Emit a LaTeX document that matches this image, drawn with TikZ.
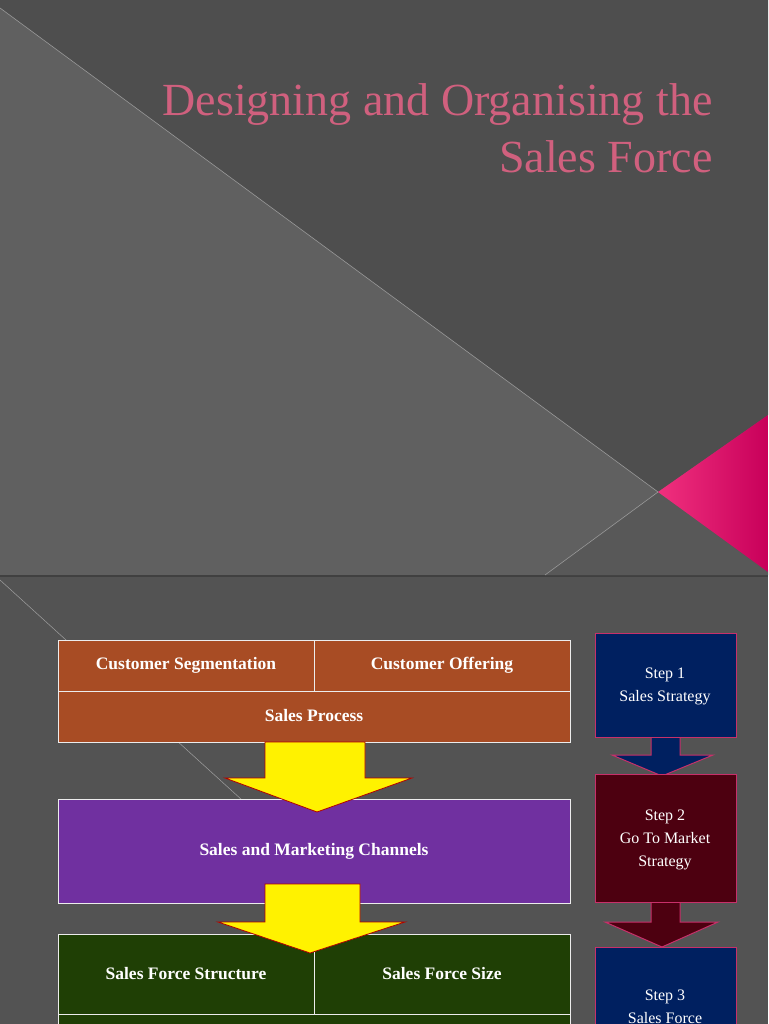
\documentclass[tikz,border=0pt]{standalone}
\usepackage{fontspec}
\setmainfont{Liberation Serif}
\begin{document}
\begin{tikzpicture}[x=1pt,y=-1pt,
  box/.style={draw=white!85!gray,line width=0.8pt},
  lbl/.style={text=white,font=\bfseries\fontsize{17.5}{20}\selectfont},
  slbl/.style={text=white,align=center,font=\fontsize{16}{23}\selectfont},
  yarr/.style={fill=yellow,draw=red!70!black,line width=0.8pt,line join=miter},
  sarr/.style={draw=pinkb,line width=1pt}]
\definecolor{bgA}{HTML}{4E4E4E}\definecolor{bgB}{HTML}{606060}
\definecolor{bgC}{HTML}{535353}
\definecolor{orng}{HTML}{A84C24}\definecolor{purp}{HTML}{7030A0}
\definecolor{grn}{HTML}{1F3F05}\definecolor{navy}{HTML}{002060}
\definecolor{maro}{HTML}{4D0010}\definecolor{ttl}{HTML}{D0607E}
\definecolor{pinkL}{HTML}{F0307E}\definecolor{pinkR}{HTML}{C8005A}
\definecolor{pinkb}{HTML}{C8306A}
\useasboundingbox (0,0) rectangle (768,1024);
\fill[black!75] (0,0) rectangle (768,1024);
% top slide
\fill[bgB] (0,0) rectangle (768,575);
\fill[bgA] (0,0) -- (0,8) -- (658,492) -- (768,415) -- (768,0) -- cycle;
\fill[bgB!105] (545,575) -- (658,492) -- (768,570) -- (768,575) -- cycle;
\draw[gray!80,line width=0.6pt] (0,8) -- (658,492) -- (545,575);
\shade[left color=pinkL, right color=pinkR] (658,492) -- (768,415) -- (768,572) -- cycle;
\node[anchor=north east,align=right,text=ttl,font=\fontsize{46}{57}\selectfont] (title) at (716,80) {Designing and Organising the\\Sales Force};
% bottom slide
\fill[bgC] (0,577) rectangle (768,1024);
\draw[gray!75,line width=0.5pt] (0,580) -- (330,880);
% orange
\fill[orng] (58,640) rectangle (570,742);
\draw[box] (58,640) rectangle (570,742) (58,691) -- (570,691) (314,640) -- (314,691);
\node[lbl] (cs) at (186,665) {Customer Segmentation};
\node[lbl] (co) at (442,665) {Customer Offering};
\node[lbl] (sp) at (314,716) {Sales Process};
% purple
\fill[purp] (58,799) rectangle (570,903);
\draw[box] (58,799) rectangle (570,903);
\node[lbl] (smc) at (314,851) {Sales and Marketing Channels};
% green
\fill[grn] (58,934) rectangle (570,1030);
\draw[box] (58,934) rectangle (570,1030) (58,1014) -- (570,1014) (314,934) -- (314,1014);
\node[lbl] (sfs) at (186,974) {Sales Force Structure};
\node[lbl] (sfz) at (442,974) {Sales Force Size};
% yellow arrows
\draw[yarr] (265,742) -- (365,742) -- (365,778) -- (412,778) -- (317,812) -- (225,778) -- (265,778) -- cycle;
\draw[yarr] (265,884) -- (360,884) -- (360,922) -- (405,922) -- (310,953) -- (218,922) -- (265,922) -- cycle;
% step boxes
\draw[sarr,fill=navy] (651,736) -- (680,736) -- (680,755) -- (713,755) -- (662,776) -- (612,755) -- (651,755) -- cycle;
\draw[sarr,fill=navy] (595,633) rectangle (736,737);
\node[slbl] (s1) at (665,686) {Step 1\\Sales Strategy};
\draw[sarr,fill=maro] (651,901) -- (680,901) -- (680,922) -- (718,922) -- (662,947) -- (605,922) -- (651,922) -- cycle;
\draw[sarr,fill=maro] (595,774) rectangle (736,902);
\node[slbl] (s2) at (665,840) {Step 2\\Go To Market\\Strategy};
\draw[sarr,fill=navy] (595,947) rectangle (736,1030);
\node[slbl,anchor=north] (s3) at (665,986) {Step 3\\Sales Force};
\end{tikzpicture}
\end{document}
